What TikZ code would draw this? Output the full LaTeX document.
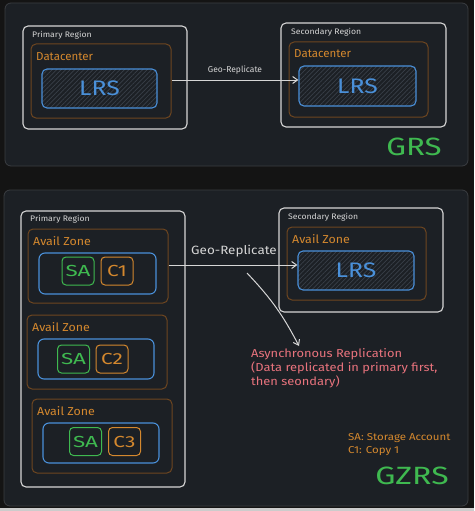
\documentclass[tikz,border=0pt]{standalone}
\usepackage{fontspec}
\setmainfont{Fira Sans}
\usetikzlibrary{arrows.meta,patterns.meta}
\definecolor{bgc}{HTML}{141414}
\definecolor{panelc}{HTML}{1C2025}
\definecolor{panelb}{HTML}{3A3D41}
\definecolor{whitec}{HTML}{D6D6D6}
\definecolor{zonec}{HTML}{6E4620}
\definecolor{orangec}{HTML}{D4882E}
\definecolor{bluec}{HTML}{4A90D9}
\definecolor{greenc}{HTML}{3FB950}
\definecolor{redc}{HTML}{E8737D}
\definecolor{hatchc}{HTML}{394049}
\newcommand{\wide}[2]{\scalebox{#1}[1]{#2}}
\tikzset{
  panel/.style={draw=panelb, fill=panelc, rounded corners=6pt, line width=0.8pt},
  regbox/.style={draw=whitec, rounded corners=5pt, line width=1.1pt, inner sep=0pt},
  zonebox/.style={draw=zonec, rounded corners=5pt, line width=1pt, inner sep=0pt},
  grpbox/.style={draw=bluec, rounded corners=6pt, line width=1.1pt, inner sep=0pt},
  lrsbox/.style={draw=bluec, rounded corners=5pt, line width=1.1pt, inner sep=0pt,
     pattern={Lines[angle=45,distance=3.2pt,line width=0.7pt]}, pattern color=hatchc,
     text=bluec, font=\fontsize{21}{21}\selectfont},
  sabox/.style={draw=greenc, rounded corners=4pt, line width=1pt, inner sep=0pt,
     minimum width=32pt, minimum height=28pt, text=greenc, font=\fontsize{16}{16}\selectfont},
  cbox/.style={draw=orangec, rounded corners=4pt, line width=1pt, inner sep=0pt,
     minimum width=32pt, minimum height=28pt, text=orangec, font=\fontsize{16}{16}\selectfont},
  reglabel/.style={text=whitec, font=\fontsize{8}{8}\selectfont, anchor=west, inner sep=0pt},
  zonelabel/.style={text=orangec, font=\fontsize{11.5}{11.5}\selectfont, anchor=west, inner sep=0pt},
  arr/.style={draw=whitec, line width=1pt, -{Straight Barb[length=5pt,width=7pt]}},
}
\begin{document}
\begin{tikzpicture}[x=1pt,y=-1pt]
\fill[bgc] (0,0) rectangle (474,511);
\useasboundingbox (0,0) rectangle (474,511);
\fill[black!20] (0,507.5) rectangle (474,511);

% ---------- top panel (GRS)
\draw[panel] (5,3) rectangle (468,166);
\node[regbox, minimum width=164pt, minimum height=103pt] (pr1) at (105,77.5) {};
\node[reglabel] (pr1t) at (32,35) {\wide{1.08}{Primary Region}};
\node[zonebox, minimum width=140pt, minimum height=74pt] (dc1) at (101,81) {};
\node[zonelabel] (dc1t) at (36,57) {Datacenter};
\node[lrsbox, minimum width=115pt, minimum height=39pt] (lrs1) at (99.5,88.5) {\wide{1.18}{LRS}};

\node[regbox, minimum width=165pt, minimum height=104pt] (sr1) at (363.5,75) {};
\node[reglabel] (sr1t) at (291,32) {\wide{1.08}{Secondary Region}};
\node[zonebox, minimum width=139pt, minimum height=75pt] (dc2) at (358.5,79.5) {};
\node[zonelabel] (dc2t) at (294,54) {Datacenter};
\node[lrsbox, minimum width=117pt, minimum height=40pt] (lrs2) at (357.5,86) {\wide{1.18}{LRS}};

\draw[arr] (dc1.east) ++(0,-1) coordinate (a1s) -- (a1s -| lrs2.west);
\node[text=whitec, font=\fontsize{8.5}{9}\selectfont] (geo1) at (235,70) {Geo-Replicate};
\node[text=greenc, font=\fontsize{25}{25}\selectfont] (grs) at (414,147) {\wide{1.25}{GRS}};

% ---------- bottom panel (GZRS)
\draw[panel] (4,190) rectangle (468,506);
\node[regbox, minimum width=164pt, minimum height=276pt] (pr2) at (103,349) {};
\node[reglabel] (pr2t) at (30,219) {\wide{1.08}{Primary Region}};

\node[zonebox, minimum width=140pt, minimum height=74pt] (az1) at (98,266) {};
\node[zonelabel] (az1t) at (33,241) {\wide{1.08}{Avail Zone}};
\node[grpbox, minimum width=117pt, minimum height=41pt] (g1) at (97.5,273.5) {};
\node[sabox] (sa1) at (78,271) {\wide{1.4}{SA}};
\node[cbox] (c1) at (117,271) {\wide{1.3}{C1}};

\node[zonebox, minimum width=140pt, minimum height=74pt] (az2) at (97,352) {};
\node[zonelabel] (az2t) at (32,327) {\wide{1.08}{Avail Zone}};
\node[grpbox, minimum width=116pt, minimum height=40pt] (g2) at (96,359) {};
\node[sabox] (sa2) at (73.5,359) {\wide{1.4}{SA}};
\node[cbox] (c2) at (112,359) {\wide{1.3}{C2}};

\node[zonebox, minimum width=140pt, minimum height=74pt] (az3) at (102,436) {};
\node[zonelabel] (az3t) at (37,411) {\wide{1.08}{Avail Zone}};
\node[grpbox, minimum width=116pt, minimum height=40pt] (g3) at (101,443) {};
\node[sabox] (sa3) at (85.5,441.5) {\wide{1.4}{SA}};
\node[cbox] (c3) at (124.5,441.5) {\wide{1.3}{C3}};

\node[regbox, minimum width=164pt, minimum height=104pt] (sr2) at (361,260) {};
\node[reglabel] (sr2t) at (288,217) {\wide{1.08}{Secondary Region}};
\node[zonebox, minimum width=139pt, minimum height=73pt] (az4) at (356.5,263.5) {};
\node[zonelabel] (az4t) at (292,239) {\wide{1.08}{Avail Zone}};
\node[lrsbox, minimum width=116pt, minimum height=39pt] (lrs3) at (356,270.5) {\wide{1.18}{LRS}};

\draw[arr] (az1.east) ++(0,-1) coordinate (a2s) -- (a2s -| lrs3.west);
\node[text=whitec, font=\fontsize{12}{12}\selectfont] (geo2) at (234,251) {\wide{1.12}{Geo-Replicate}};

\node[text=redc, font=\fontsize{11.5}{14}\selectfont, align=left, anchor=north west, inner sep=0pt] (note) at (251,348.5)
  {\wide{1.12}{Asynchronous Replication}\\\wide{1.12}{(Data replicated in primary first,}\\\wide{1.12}{then seondary)}};
\coordinate (cs) at (247,273);
\draw[arr] (cs) to[bend left=8] (299,346);

\node[text=orangec, font=\fontsize{10}{13}\selectfont, align=left, anchor=north west, inner sep=0pt] (legend) at (348,433)
  {\wide{1.15}{SA: Storage Account}\\\wide{1.15}{C1: Copy 1}};
\node[text=greenc, font=\fontsize{25}{25}\selectfont] (gzrs) at (412,476) {\wide{1.28}{GZRS}};
\end{tikzpicture}
\end{document}
